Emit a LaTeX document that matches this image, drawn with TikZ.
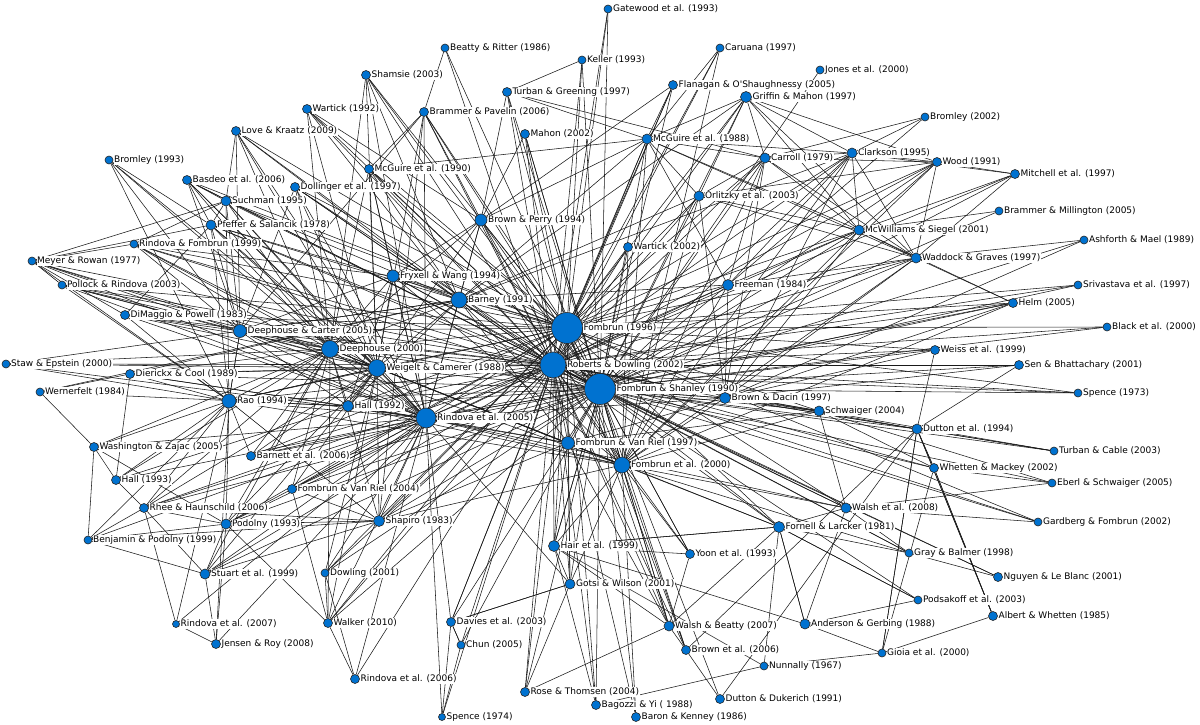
\documentclass[tikz,border=0pt]{standalone}
\usepackage{fontspec}
\newfontfamily\lblfont{DejaVu Sans}
\usetikzlibrary{backgrounds}
\definecolor{nodeblue}{RGB}{0,114,208}
\newcommand{\mynd}[5]{\node[nd,minimum size=#4pt,label={[lbl]0:{#5}}] (#1) at (#2,#3) {};}
\begin{document}
\begin{tikzpicture}[x=1pt,y=-1pt,
 nd/.style={circle,draw=black!85,line width=0.6pt,fill=nodeblue,inner sep=0pt},
 lbl/.style={font=\lblfont\fontsize{9}{10}\selectfont,inner sep=0.6pt,fill=white,text=black},
 edge/.style={line width=0.55pt,draw=black!90}]
\useasboundingbox (0,0) rectangle (1200,725);
\mynd{gat}{608}{9}{8}{Gatewood et al. (1993)}
\mynd{br}{445}{48}{8}{Beatty \& Ritter (1986)}
\mynd{kel}{582}{60}{8}{Keller (1993)}
\mynd{car97}{720}{48}{8}{Caruana (1997)}
\mynd{jon}{820}{70}{8}{Jones et al. (2000)}
\mynd{sham}{366}{75}{9}{Shamsie (2003)}
\mynd{tg}{507}{92}{9}{Turban \& Greening (1997)}
\mynd{flan}{673}{85}{9}{Flanagan \& O'Shaughnessy (2005)}
\mynd{gm}{746}{97}{11}{Griffin \& Mahon (1997)}
\mynd{wart92}{307}{109}{9}{Wartick (1992)}
\mynd{bpav}{424}{112}{9}{Brammer \& Pavelin (2006)}
\mynd{brom02}{925}{117}{8}{Bromley (2002)}
\mynd{love}{236}{131}{9}{Love \& Kraatz (2009)}
\mynd{mah}{525}{134}{9}{Mahon (2002)}
\mynd{mcg88}{647}{139}{10}{McGuire et al. (1988)}
\mynd{carr}{765}{158}{10}{Carroll (1979)}
\mynd{cla}{852}{153}{10}{Clarkson (1995)}
\mynd{brom93}{109}{160}{8}{Bromley (1993)}
\mynd{wood}{937}{162}{9}{Wood (1991)}
\mynd{mitch}{1015}{174}{9}{Mitchell et al. (1997)}
\mynd{mcg90}{369}{169}{9}{McGuire et al. (1990)}
\mynd{basd}{187}{180}{9}{Basdeo et al. (2006)}
\mynd{doll}{295}{187}{9}{Dollinger et al. (1997)}
\mynd{orl}{699}{196}{10}{Orlitzky et al. (2003)}
\mynd{such}{226}{201}{10}{Suchman (1995)}
\mynd{bmil}{999}{211}{8}{Brammer \& Millington (2005)}
\mynd{pfe}{211}{225}{10}{Pfeffer \& Salancik (1978)}
\mynd{bp}{481}{220}{12}{Brown \& Perry (1994)}
\mynd{ms}{859}{230}{10}{McWilliams \& Siegel (2001)}
\mynd{rf99}{134}{244}{8}{Rindova \& Fombrun (1999)}
\mynd{wart02}{628}{247}{9}{Wartick (2002)}
\mynd{ash}{1084}{240}{8}{Ashforth \& Mael (1989)}
\mynd{mr}{32}{261}{8}{Meyer \& Rowan (1977)}
\mynd{wg}{916}{258}{10}{Waddock \& Graves (1997)}
\mynd{fw}{393}{276}{12}{Fryxell \& Wang (1994)}
\mynd{bar}{459}{300}{16}{Barney (1991)}
\mynd{fre}{728}{285}{11}{Freeman (1984)}
\mynd{pr}{62}{285}{8}{Pollock \& Rindova (2003)}
\mynd{helm}{1013}{303}{9}{Helm (2005)}
\mynd{sriv}{1078}{285}{8}{Srivastava et al. (1997)}
\mynd{dm}{125}{315}{9}{DiMaggio \& Powell (1983)}
\mynd{f96}{567}{328}{31}{Fombrun (1996)}
\mynd{black}{1107}{327}{8}{Black et al. (2000)}
\mynd{dc05}{240}{331}{13}{Deephouse \& Carter (2005)}
\mynd{d00}{330}{349}{17}{Deephouse (2000)}
\mynd{rd}{553}{365}{26}{Roberts \& Dowling (2002)}
\mynd{weiss}{935}{350}{9}{Weiss et al. (1999)}
\mynd{staw}{6}{364}{8}{Staw \& Epstein (2000)}
\mynd{sen}{1019}{365}{9}{Sen \& Bhattachary (2001)}
\mynd{wc}{377}{368}{17}{Weigelt \& Camerer (1988)}
\mynd{dier}{130}{374}{9}{Dierickx \& Cool (1989)}
\mynd{fs}{600}{389}{31}{Fombrun \& Shanley (1990)}
\mynd{wern}{40}{392}{8}{Wernerfelt (1984)}
\mynd{sp73}{1078}{393}{8}{Spence (1973)}
\mynd{rao}{229}{401}{14}{Rao (1994)}
\mynd{bd}{725}{398}{11}{Brown \& Dacin (1997)}
\mynd{h92}{348}{406}{11}{Hall (1992)}
\mynd{r05}{426}{418}{20}{Rindova et al. (2005)}
\mynd{schw}{819}{411}{10}{Schwaiger (2004)}
\mynd{dutt}{917}{429}{10}{Dutton et al. (1994)}
\mynd{wz}{94}{447}{9}{Washington \& Zajac (2005)}
\mynd{tc}{1054}{451}{8}{Turban \& Cable (2003)}
\mynd{fvr97}{568}{443}{13}{Fombrun \& Van Riel (1997)}
\mynd{barn}{251}{456}{9}{Barnett et al. (2006)}
\mynd{fe00}{622}{465}{16}{Fombrun et al. (2000)}
\mynd{wm}{934}{468}{9}{Whetten \& Mackey (2002)}
\mynd{h93}{116}{480}{9}{Hall (1993)}
\mynd{eber}{1052}{483}{8}{Eberl \& Schwaiger (2005)}
\mynd{fvr04}{292}{489}{9}{Fombrun \& Van Riel (2004)}
\mynd{rhee}{144}{508}{9}{Rhee \& Haunschild (2006)}
\mynd{wal08}{846}{508}{10}{Walsh et al. (2008)}
\mynd{shap}{379}{521}{11}{Shapiro (1983)}
\mynd{gf}{1038}{522}{8}{Gardberg \& Fombrun (2002)}
\mynd{podo}{226}{524}{10}{Podolny (1993)}
\mynd{fl}{779}{527}{11}{Fornell \& Larcker (1981)}
\mynd{bpod}{88}{540}{8}{Benjamin \& Podolny (1999)}
\mynd{hair}{554}{546}{11}{Hair et al. (1999)}
\mynd{gb}{909}{553}{8}{Gray \& Balmer (1998)}
\mynd{yoon}{690}{554}{9}{Yoon et al. (1993)}
\mynd{stu}{205}{574}{10}{Stuart et al. (1999)}
\mynd{dowl}{325}{573}{8}{Dowling (2001)}
\mynd{ngu}{998}{577}{9}{Nguyen \& Le Blanc (2001)}
\mynd{gw}{570}{584}{10}{Gotsi \& Wilson (2001)}
\mynd{walk}{328}{623}{9}{Walker (2010)}
\mynd{r07}{176}{624}{7}{Rindova et al. (2007)}
\mynd{podsa}{918}{600}{8}{Podsakoff et al. (2003)}
\mynd{alb}{993}{616}{9}{Albert \& Whetten (1985)}
\mynd{dav}{451}{622}{9}{Davies et al. (2003)}
\mynd{wb}{669}{626}{10}{Walsh \& Beatty (2007)}
\mynd{ag}{805}{624}{10}{Anderson \& Gerbing (1988)}
\mynd{jr}{216}{644}{9}{Jensen \& Roy (2008)}
\mynd{chun}{461}{645}{8}{Chun (2005)}
\mynd{be06}{686}{650}{9}{Brown et al. (2006)}
\mynd{nun}{764}{666}{8}{Nunnally (1967)}
\mynd{gio}{882}{653}{8}{Gioia et al. (2000)}
\mynd{r06}{355}{679}{9}{Rindova et al. (2006)}
\mynd{rt}{525}{692}{9}{Rose \& Thomsen (2004)}
\mynd{bag}{596}{705}{9}{Bagozzi \& Yi ( 1988)}
\mynd{dd}{720}{699}{9}{Dutton \& Dukerich (1991)}
\mynd{sp74}{442}{717}{7}{Spence (1974)}
\mynd{bk}{636}{717}{9}{Baron \& Kenney (1986)}
\begin{scope}[on background layer]
\foreach \s/\tl in {
gat/{f96,fs,rd}, br/{bpav,rd,fs}, kel/{tg,f96,rd,fs}, car97/{f96,rd,fe00,mcg88}, jon/{fs},
sham/{d00,wc,f96,rd,bar,fs}, tg/{mcg88,carr,f96,bp,rd,fs}, flan/{f96,rd,bp,fs,mcg88},
gm/{f96,rd,fs,mcg88,carr,cla,wood,ms,wg,orl}, wart92/{d00,f96,fs,wc,bp,rd},
bpav/{bp,r05,f96,rd,fs,mcg90,dc05,shap}, brom02/{cla,carr,fre}, love/{such,d00,r05,f96,wc,rd,dc05},
mah/{rd,f96,fs,bp,fe00}, mcg88/{f96,rd,fs,bp,carr,cla,wg,ms,orl,fre},
carr/{cla,wood,ms,wg,f96,fs,bd,fre,orl,rd}, cla/{wood,ms,wg,fs,f96,rd,bd,mitch,fre},
brom93/{pfe,dc05,d00,rao,r05}, wood/{mitch,ms,wg,fs,f96,rd,orl}, mitch/{ms,fs,rd,wg},
mcg90/{fw,bar,f96,fs,d00,mcg88,wc}, basd/{pfe,such,d00,r05,f96,rd,dc05},
doll/{d00,wc,f96,rd,fs,dc05,bar}, orl/{f96,rd,fs,ms,wg,bd}, such/{mr,dc05,d00,rd,f96,pfe,rf99,rao,r05},
bmil/{ms,fs}, pfe/{mr,dm,dc05,d00,rd,rao,r05,f96}, bp/{f96,rd,fs,bar,fw,wc,d00,r05,fe00},
ms/{wg,f96,rd,fs,bd,helm}, rf99/{dc05,d00,r05,rd,f96,mr,fw}, wart02/{f96,rd,fs,fe00},
ash/{wg,bd,fs}, mr/{dm,dc05,d00,rao,r05,pr}, wg/{f96,rd,fs,bd,helm},
fw/{bar,rd,f96,fs,wc,d00,r05,dc05}, bar/{f96,rd,fs,wc,d00,r05,h92,fe00,dc05},
fre/{f96,rd,fs,ms,wg,bd,fe00}, pr/{dc05,d00,rao,r05,rd,f96}, helm/{f96,rd,fs,r05,bd,fe00},
sriv/{f96,rd,fs}, dm/{dc05,d00,rao,r05,rd}, black/{f96,rd,fs}, dc05/{d00,rd,f96,fs,r05,rao,wc},
d00/{rd,f96,fs,wc,r05,rao,h92,fe00,fvr97}, weiss/{f96,rd,fs,bd,dutt}, staw/{d00,rao,r05,dc05},
sen/{bd,fs,rd,dutt}, wc/{rd,f96,fs,r05,h92,rao,fe00}, dier/{bar,h92,h93,wc,d00,rao},
fs/{f96,rd,fe00,fvr97,bd,r05,hair}, wern/{wz,bar,dier,h92}, sp73/{rd,fs,f96,wc},
rao/{rd,r05,fs,f96,h92,podo}, bd/{fs,rd,f96,schw,dutt,fe00}, h92/{rd,f96,fs,r05},
r05/{rd,f96,fe00,fvr97,shap}, schw/{fs,rd,f96,fe00,eber,wm,wal08}, dutt/{fs,rd,bd,tc,wm,alb,gio},
wz/{h93,rao,r05,d00,bpod,podo}, tc/{fs,dutt,rd}, fvr97/{rd,f96,fe00}, barn/{rao,d00,r05,rd,f96},
fe00/{rd,f96}, wm/{eber,fs,alb,dutt,gio,rd}, h93/{rao,h92,d00,r05,rhee}, eber/{fs,wal08},
fvr04/{r05,rd,fs,walk,shap}, rhee/{podo,r05,rd,rao,d00,stu}, wal08/{fs,rd,f96,fe00,gb,fl},
shap/{rd,fs,f96,wc,podo,stu,rhee,bpod,d00,rao}, gf/{fs,f96,rd,wal08}, podo/{r05,rd,wc,d00,stu},
fl/{gb,fs,rd,ag,podsa,hair,fe00}, bpod/{podo,stu,rao,r05,rhee}, hair/{rd,f96,fe00,yoon,fl},
gb/{ngu,fs,rd,fe00}, yoon/{fs,rd,fe00}, stu/{r05,rd,wc,jr}, dowl/{rd,fs,f96,r05,walk},
ngu/{fs,rd}, gw/{rd,f96,fs,hair,fe00,dav}, walk/{rd,fs,r05,podo,wc,r06}, r07/{jr,rhee,r05,rao},
podsa/{fl,ag,fs}, alb/{gio,dutt,wm}, dav/{rd,f96,chun,r05,gw,fs}, wb/{fs,rd,f96,fe00,fl,hair,yoon},
ag/{fl,hair,gio,wal08}, jr/{podo,rao,r05}, chun/{rd,fs,dav}, be06/{fs,rd,wb,fe00,dutt},
nun/{gio,fl,hair,bag}, gio/{dutt}, r06/{dowl,r05,rd}, rt/{rd,fs,f96,wb,gw}, bag/{f96,rd,fs,hair},
dd/{dutt,be06,fs}, sp74/{chun,dav,r05,rd}, bk/{rd,fs,fe00},
such/{wc,bar}, pfe/{wc,bar,fs}, basd/{wc,fs}, love/{bar}, doll/{r05}, wart92/{bar}, sham/{r05},
mcg90/{rd,r05}, bpav/{wc}, rf99/{wc,fs}, mr/{wc,rd}, pr/{wc,fs}, dm/{wc,f96}, dier/{r05,rd,fs},
staw/{wc,rd}, shap/{fvr97,fe00}, podo/{f96,fs}, stu/{fs,d00}, walk/{d00,f96}, dowl/{wc},
fvr04/{d00,wc,f96}, barn/{wc,fs}, rhee/{wc,fs}, bd/{fvr97,r05}, schw/{fvr97}, wal08/{r05},
fl/{f96,fvr97}, hair/{fs,fvr97}, yoon/{f96}, wb/{fvr97}, be06/{f96}, gw/{fvr97,r05},
mcg88/{fe00,bar}, carr/{fe00}, cla/{fe00,bar}, wood/{fe00}, orl/{fe00,bar}, ms/{fe00}, wg/{fe00},
fre/{bar,r05}, gm/{bar}, h92/{fe00,fvr97,dc05}, rao/{fe00,wc,dc05}, dc05/{bar,fe00}, fw/{fe00,h92},
bar/{fvr97}, wc/{fvr97}, r05/{fs}}
{\foreach \t in \tl {\draw[edge] (\s) -- (\t);}}
\end{scope}
\end{tikzpicture}
\end{document}
